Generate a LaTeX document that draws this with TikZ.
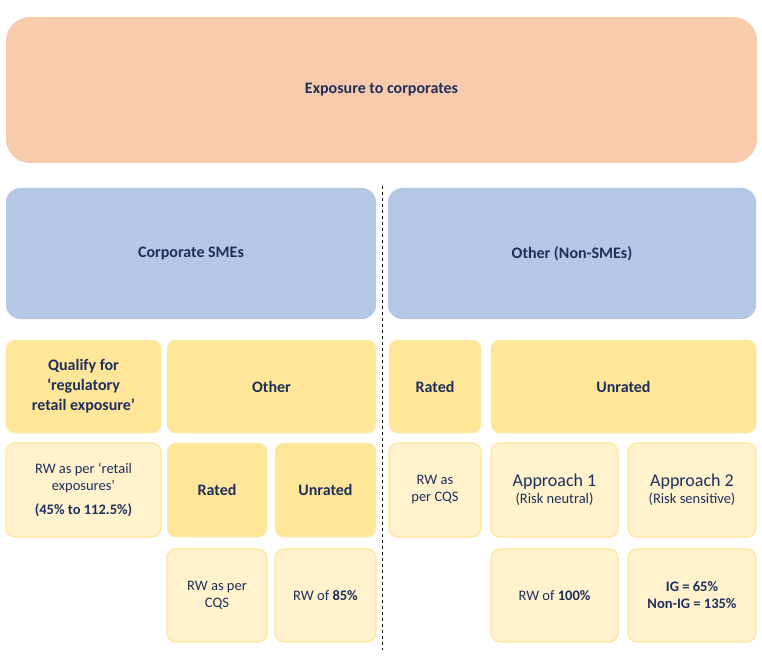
\documentclass[tikz,border=0pt]{standalone}
\usepackage{fontspec}
\setmainfont{Carlito}
\definecolor{peach}{HTML}{F8CBAD}
\definecolor{blu}{HTML}{B4C7E7}
\definecolor{yel}{HTML}{FFE699}
\definecolor{lyel}{HTML}{FFF2CC}
\definecolor{navy}{HTML}{1F2F5C}
\tikzset{
 base/.style={inner sep=2pt, align=center, text=navy, font=\fontsize{14.5}{17}\selectfont},
 top/.style={base, fill=peach, rounded corners=24pt, font=\fontsize{16}{19}\selectfont\bfseries},
 mid/.style={base, fill=blu, rounded corners=14pt, font=\fontsize{16}{19}\selectfont\bfseries},
 cat/.style={base, fill=yel, draw=yel, rounded corners=9pt, font=\fontsize{16}{20}\selectfont\bfseries},
 leaf/.style={base, fill=lyel, draw=yel, line width=1.2pt, rounded corners=9pt},
}
\newcommand{\bx}[7]{\node[#1, minimum width={(#5-#3)*1pt}, minimum height={(#6-#4)*1pt}] (#2) at ({(#3+#5)/2*1pt},{-(#4+#6)/2*1pt}) {#7};}
\begin{document}
\begin{tikzpicture}
\useasboundingbox (0,0) rectangle (762pt,-660pt);
\fill[white] (0,0) rectangle (762pt,-660pt);
\bx{top}{a}{6}{17}{757}{163}{Exposure to corporates}
\bx{mid}{b}{6}{188}{376}{319}{Corporate SMEs}
\bx{mid}{c}{388}{188}{756}{319}{Other (Non-SMEs)}
\bx{cat}{d}{6}{340}{161}{433}{Qualify for\\‘regulatory\\retail exposure’}
\bx{cat}{e}{167}{340}{376}{433}{Other}
\bx{cat}{f}{389}{340}{481}{433}{Rated}
\bx{cat}{g}{491}{340}{756}{433}{Unrated}
\bx{leaf}{h}{6}{443}{161}{537}{RW as per ‘retail\\exposures’\\[7pt]\textbf{(45\% to 112.5\%)}}
\bx{cat}{i}{167}{443}{267}{537}{Rated}
\bx{cat}{j}{275}{443}{376}{537}{Unrated}
\bx{leaf}{k}{389}{443}{481}{537}{RW as\\per CQS}
\bx{leaf}{l}{491}{443}{618}{537}{{\fontsize{18}{21}\selectfont Approach 1}\\(Risk neutral)}
\bx{leaf}{m}{628}{443}{756}{537}{{\fontsize{18}{21}\selectfont Approach 2}\\(Risk sensitive)}
\bx{leaf}{n}{167}{549}{267}{642}{RW as per\\CQS}
\bx{leaf}{o}{275}{549}{376}{642}{RW of \textbf{85\%}}
\bx{leaf}{p}{491}{549}{618}{642}{RW of \textbf{100\%}}
\bx{leaf}{q}{628}{549}{756}{642}{\textbf{IG = 65\%}\\\textbf{Non-IG = 135\%}}
\coordinate (t) at (382pt,-186pt);
\coordinate (u) at (382pt,-650pt);
\draw[dashed, line width=0.8pt] (t) -- (u);
\end{tikzpicture}
\end{document}
